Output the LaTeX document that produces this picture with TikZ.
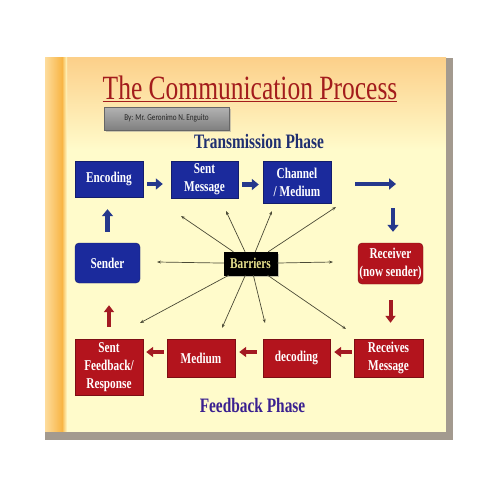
\documentclass[tikz,border=0pt]{standalone}
\usepackage{fontspec}
\setmainfont{Liberation Serif}[FakeStretch=0.75]
\newfontfamily\bylinefont{Carlito}[FakeStretch=0.8]
\usetikzlibrary{arrows.meta,shadows}

\definecolor{slideyellow}{HTML}{FFFBCB}
\definecolor{slideorange}{HTML}{FCD08A}
\definecolor{stripdark}{HTML}{F8B545}
\definecolor{striplight}{HTML}{FDDC9C}
\definecolor{framegrey}{HTML}{A39A8F}
\definecolor{titlered}{HTML}{A31C1C}
\definecolor{phaseblue}{HTML}{1F2F70}
\definecolor{phasepurple}{HTML}{3A2090}
\definecolor{boxblue}{HTML}{1B2A9C}
\definecolor{boxred}{HTML}{B3141D}
\definecolor{arrowblue}{HTML}{25388C}
\definecolor{arrowred}{HTML}{A31A22}
\definecolor{raycolor}{HTML}{4B4A36}
\definecolor{barrtext}{HTML}{E6E08C}

\tikzset{
  phasebox/.style={fill=boxblue, draw=boxblue!70!black, text=white,
    font=\fontsize{15}{18}\selectfont\bfseries, align=center, inner sep=0pt},
  bluebox/.style={phasebox},
  redbox/.style={phasebox, fill=boxred, draw=boxred!70!black},
  bluearrow/.style={draw=arrowblue, line width=4.5pt, -{Triangle[length=7pt,width=11pt]}},
  redarrow/.style={draw=arrowred, line width=4pt, -{Triangle[length=7pt,width=10pt]}},
  ray/.style={draw=raycolor, line width=0.7pt, -{Stealth[length=4pt,width=3pt]}},
  bybox/.style={draw=black!60, top color=black!30, bottom color=black!50,
    text=black!85, font=\bylinefont\fontsize{9}{11}\selectfont, inner sep=0pt,
    minimum width=125pt, minimum height=23pt,
    drop shadow={shadow xshift=1.5pt, shadow yshift=-1.5pt, fill=black!40}}
}

\begin{document}
\begin{tikzpicture}[x=1pt,y=-1pt]
  \useasboundingbox (0,0) rectangle (495,495);
  \fill[white] (0,0) rectangle (495,495);
  \shade[top color=slideorange, bottom color=slideyellow] (45,58) rectangle (446,150);
  \fill[slideyellow] (45,150) rectangle (446,432);
  \shade[left color=striplight, right color=stripdark] (45,58) rectangle (62,432);
  \shade[left color=stripdark, right color=slideyellow] (62,58) rectangle (67,432);
  \fill[framegrey] (446,58) rectangle (453,440);
  \fill[framegrey] (45,432) rectangle (453,440);

  \node[anchor=base, text=titlered, font=\fontsize{34}{36}\selectfont] (title) at (250,99)
    {\underline{The Communication Process}};
  \node[bybox] (byline) at (166.5,118.5) {By: Mr. Geronimo N. Enguito};
  \node[anchor=base, text=phaseblue, font=\fontsize{20.5}{24}\selectfont\bfseries] (tphase) at (259,148)
    {Transmission Phase};
  \node[anchor=base, text=phasepurple, font=\fontsize{20.5}{24}\selectfont\bfseries] (fphase) at (252.5,412)
    {Feedback Phase};

  \node[bluebox, minimum width=68pt, minimum height=36pt] (enc) at (109,179) {Encoding};
  \node[bluebox, minimum width=67pt, minimum height=37pt] (sent) at (204.5,179.5) {Sent\\Message};
  \node[bluebox, minimum width=68pt, minimum height=42pt] (chan) at (297,182) {Channel\\/ Medium};
  \node[bluebox, rounded corners=4pt, minimum width=65pt, minimum height=40pt] (sender) at (107.5,263) {Sender};
  \node[redbox, rounded corners=4pt, minimum width=65pt, minimum height=41pt] (recv) at (390.5,263.5) {Receiver\\(now sender)};
  \node[redbox, minimum width=69pt, minimum height=38pt] (recm) at (388.5,358) {Receives\\Message};
  \node[redbox, minimum width=67pt, minimum height=38pt] (dec) at (296.5,358) {decoding};
  \node[redbox, minimum width=68pt, minimum height=38pt] (med) at (201,358) {Medium};
  \node[redbox, minimum width=68pt, minimum height=56pt] (fb) at (109,367) {Sent\\Feedback/\\Response};
  \node[phasebox, fill=black, draw=black, text=barrtext, minimum width=53pt, minimum height=23pt,
    drop shadow={shadow xshift=2pt, shadow yshift=-2pt, fill=black!45}] (barr) at (250.5,263.5) {Barriers};

  \coordinate (t1) at (355,184);
  \coordinate (t2) at (396,184);
  \coordinate (t3) at (393,208);

  \draw[bluearrow, shorten <=4pt, shorten >=8pt] ([yshift=-5pt]enc.east) -- ([yshift=-5pt]enc.east -| sent.west);
  \draw[bluearrow, shorten <=4pt, shorten >=4pt] ([yshift=-5pt]sent.east) -- ([yshift=-5pt]sent.east -| chan.west);
  \draw[bluearrow] (t1) -- (t2);
  \draw[bluearrow, shorten >=11pt] (t3) -- (t3 |- recv.north);
  \draw[bluearrow, shorten <=11pt, shorten >=12pt] (sender.north) -- (sender.north |- enc.south);

  \draw[redarrow, shorten <=16pt, shorten >=16pt] (recv.south) -- (recv.south |- recm.north);
  \draw[redarrow, shorten <=2pt, shorten >=4pt] ([yshift=6pt]recm.west) -- ([yshift=6pt]recm.west -| dec.east);
  \draw[redarrow, shorten <=6pt, shorten >=4pt] ([yshift=6pt]dec.west) -- ([yshift=6pt]dec.west -| med.east);
  \draw[redarrow, shorten <=3pt, shorten >=3pt] ([yshift=6pt]med.west) -- ([yshift=6pt]med.west -| fb.east);
  \draw[redarrow, shorten <=12pt, shorten >=22pt] (fb.north) -- (fb.north |- sender.south);

  \coordinate (r1) at (157,262);
  \coordinate (r2) at (333,262);
  \coordinate (r3) at (181,216);
  \coordinate (r4) at (226,211);
  \coordinate (r5) at (272,211);
  \coordinate (r6) at (336,207);
  \coordinate (r7) at (140,323);
  \coordinate (r8) at (222,328);
  \coordinate (r9) at (265,323);
  \coordinate (r10) at (346,329);
  \foreach \r in {r1,r2,r3,r4,r5,r6,r7,r8,r9,r10}
    \draw[ray] (barr) -- (\r);
\end{tikzpicture}
\end{document}
